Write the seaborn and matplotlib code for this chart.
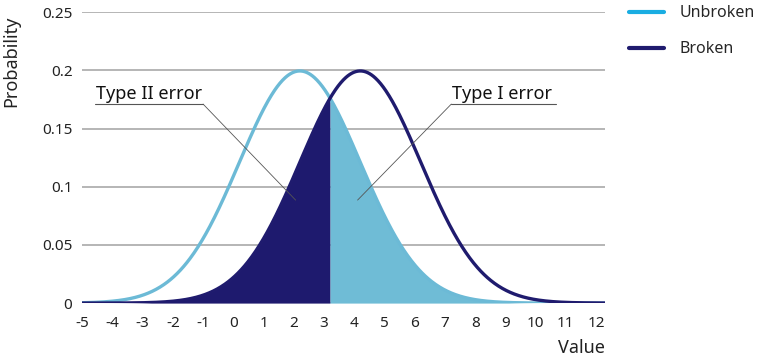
import numpy as np
import pandas as pd
import matplotlib.pyplot as plt
import seaborn as sns

# distribution parameters
groups = ['Unbroken', 'Broken']
means = [2.2, 4.2]
sds = [2.0, 2.0]
threshold = 3.2
x_min, x_max = -5, 12.3

line_colors = {'Unbroken': '#6cbad6', 'Broken': '#1f1b6e'}
legend_colors = {'Unbroken': '#19ade2', 'Broken': '#1f1b6e'}

x = np.sort(np.append(np.linspace(x_min, x_max, 800), threshold))
frames = []
for g, m, s in zip(groups, means, sds):
    pdf = np.exp(-0.5 * ((x - m) / s) ** 2) / (s * np.sqrt(2 * np.pi))
    frames.append(pd.DataFrame({'Value': x, 'Probability': pdf, 'Group': g}))
df = pd.concat(frames, ignore_index=True)

sns.set_style('white')
plt.rcParams['font.family'] = ['Noto Sans', 'DejaVu Sans']
plt.rcParams['axes.unicode_minus'] = False

fig = plt.figure(figsize=(7.68, 3.57), dpi=100)
ax = fig.add_axes([0.107, 0.151, 0.681, 0.815])

unb = df[df['Group'] == 'Unbroken']
brk = df[df['Group'] == 'Broken']

# shaded error areas
ax.fill_between(brk['Value'], 0, brk['Probability'], where=brk['Value'] <= threshold,
                color='#1e1a6e', linewidth=0, zorder=2)
ax.fill_between(unb['Value'], 0, unb['Probability'], where=unb['Value'] >= threshold,
                color='#6fbcd6', linewidth=0, zorder=2)

sns.lineplot(data=df, x='Value', y='Probability', hue='Group', palette=line_colors,
             linewidth=2.4, ax=ax, legend=False, zorder=3)

ax.set_xlim(x_min, x_max)
ax.set_ylim(0, 0.25)
ax.set_xticks(range(-5, 13))
ax.set_yticks([0, 0.05, 0.1, 0.15, 0.2, 0.25])
ax.set_yticklabels(['0', '0.05', '0.1', '0.15', '0.2', '0.25'])
ax.yaxis.grid(True, color='#b0b0b0', linewidth=1.3, zorder=0)
ax.set_axisbelow(True)
for sp in ax.spines.values():
    sp.set_visible(False)
ax.tick_params(axis='both', length=0, labelsize=11, colors='#222222')
ax.tick_params(axis='y', pad=7)
ax.tick_params(axis='x', pad=9)

ax.set_xlabel('Value', fontsize=13, color='#222222')
ax.xaxis.set_label_coords(0.955, -0.125)
ax.set_ylabel('Probability', fontsize=13, color='#222222')
ax.yaxis.set_label_coords(-0.118, 0.83)

# annotations with underline and leader line
ax.plot([-4.57, -1.0], [0.171, 0.171], color='#555555', lw=0.8, zorder=4)
ax.plot([-1.0, 2.06], [0.171, 0.0885], color='#555555', lw=0.6, zorder=4)
ax.text(-4.55, 0.1715, 'Type II error', fontsize=13, color='#111111', va='bottom')
ax.plot([7.21, 10.68], [0.171, 0.171], color='#555555', lw=0.8, zorder=4)
ax.plot([7.21, 4.11], [0.171, 0.0885], color='#555555', lw=0.6, zorder=4)
ax.text(7.23, 0.1715, 'Type I error', fontsize=13, color='#111111', va='bottom')

handles = [plt.Line2D([], [], color=legend_colors[g], lw=3) for g in groups]
fig.legend(handles, groups, loc='upper left', bbox_to_anchor=(0.8, 1.025), frameon=False,
           fontsize=11.5, handlelength=2.2, labelspacing=1.25, handletextpad=1.0)

fig.savefig('out.png', dpi=100)
